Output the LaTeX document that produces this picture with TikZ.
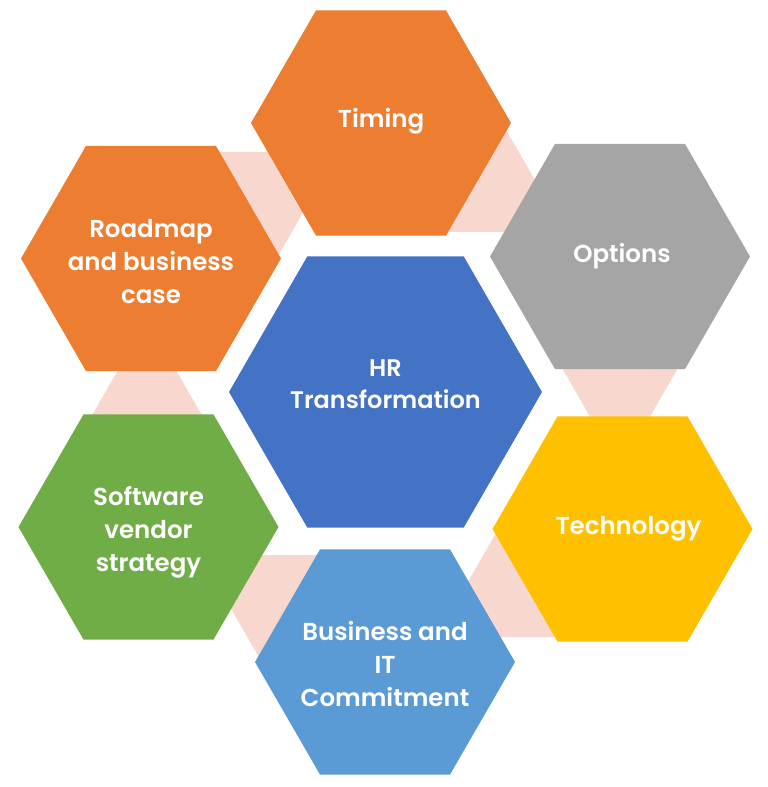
\documentclass[tikz,border=0pt]{standalone}
\usepackage{fontspec}
\setmainfont{Poppins}[BoldFont={Poppins SemiBold}]
\usetikzlibrary{shapes.geometric,backgrounds}

\definecolor{hexorange}{HTML}{ED7D31}
\definecolor{hexgray}{HTML}{A5A5A5}
\definecolor{hexyellow}{HTML}{FFC000}
\definecolor{hexsky}{HTML}{5B9BD5}
\definecolor{hexgreen}{HTML}{70AD47}
\definecolor{hexblue}{HTML}{4472C4}
\definecolor{wedgepink}{HTML}{F8D8CE}

\tikzset{
    hexagon/.style={regular polygon,regular polygon sides=6,inner sep=0pt,outer sep=0pt,
        minimum size=260pt,draw=none},
    hub/.style={hexagon,minimum size=313pt},
    hexlabel/.style={inner sep=0pt,text=white,align=center,
        font=\fontsize{24.5}{33}\selectfont\bfseries},
    hublabel/.style={hexlabel,font=\fontsize{24}{32}\selectfont\bfseries},
    wedge/.style={fill=wedgepink,draw=none}
}

\begin{document}
\begin{tikzpicture}[x=1pt,y=1pt]

\def\wedgeside{230}

\useasboundingbox (-385.5,-395) rectangle (382.5,392);

\node (transformation) [hub,fill=hexblue] at (0,0) {};
\node (transformationtxt) [hublabel] at ([yshift=8pt]transformation.center) {HR\\Transformation};

\node (timing) [hexagon,fill=hexorange] at (-4.5,269) {};
\node (options) [hexagon,fill=hexgray] at (234.5,135.5) {};
\node (technology) [hexagon,fill=hexyellow] at (237,-137) {};
\node (commitment) [hexagon,fill=hexsky] at (-0.5,-270) {};
\node (vendor) [hexagon,fill=hexgreen] at (-237,-135) {};
\node (roadmap) [hexagon,fill=hexorange] at (-234.5,133.5) {};

\node (timingtxt) [hexlabel] at ([yshift=2pt]timing.center) {Timing};
\node (optionstxt) [hexlabel] at ([xshift=2pt]options.center) {Options};
\node (technologytxt) [hexlabel] at ([xshift=6pt]technology.center) {Technology};
\node (commitmenttxt) [hexlabel] at ([yshift=-2pt]commitment.center) {Business and\\IT\\Commitment};
\node (vendortxt) [hexlabel] at ([yshift=-5pt]vendor.center) {Software\\vendor\\strategy};
\node (roadmaptxt) [hexlabel] at ([yshift=-3pt]roadmap.center) {Roadmap\\and business\\case};

% pink links between neighbouring hexagons, tip points clockwise
\begin{scope}[on background layer]
    \foreach \ax/\ay/\t in {-47.5/240/120,-238.5/72/180,-185.5/-163/240,50.5/-245/300,234.5/-76.5/0,179.5/160/60}
    {
        \fill [wedge] (\ax,\ay) -- ++(\t+60:\wedgeside) -- ++(\t+180:\wedgeside) -- cycle;
    }
\end{scope}

\end{tikzpicture}
\end{document}
